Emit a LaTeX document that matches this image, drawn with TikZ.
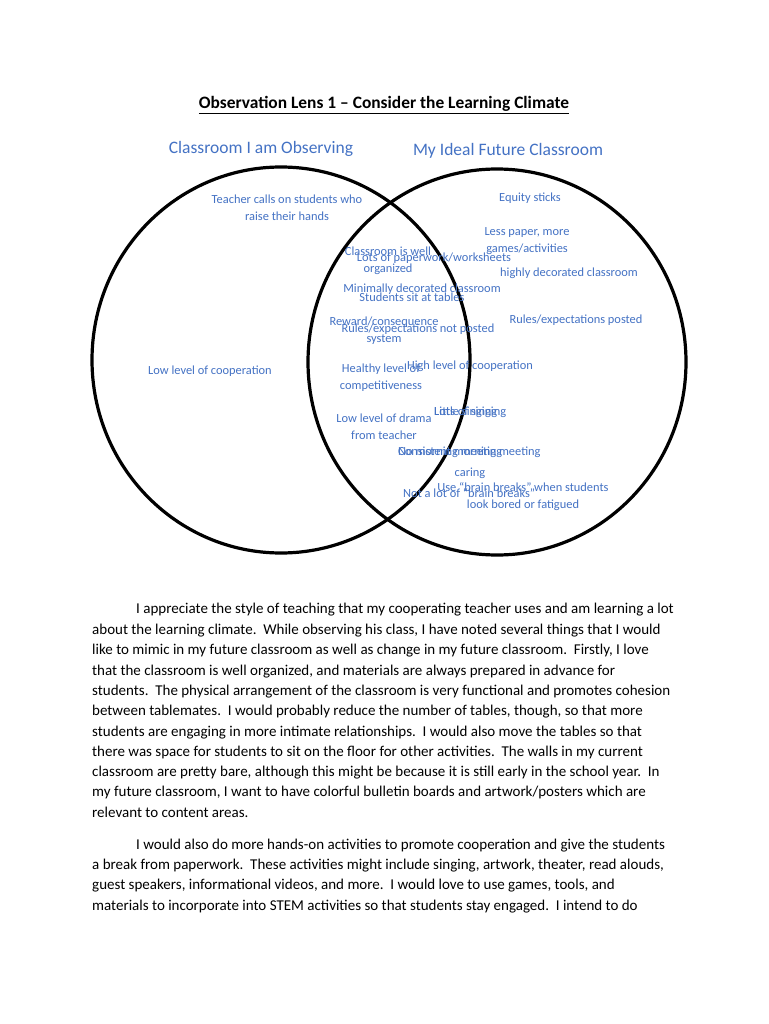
\documentclass[tikz,border=0pt]{standalone}
\usepackage{fontspec}
\setmainfont{Carlito}
\usepackage{xcolor}
\usepackage{tikz}
\usetikzlibrary{positioning}
\definecolor{wordblue}{RGB}{68,114,196}

\begin{document}
\begin{tikzpicture}[x=1pt, y=-1pt,
    lbl/.style={font=\fontsize{12.4}{17}\selectfont, text=wordblue, inner sep=0pt, align=center},
    hdr/.style={font=\fontsize{17.5}{20}\selectfont, text=wordblue, inner sep=0pt},
    body/.style={font=\fontsize{15}{20}\selectfont, anchor=base west, inner sep=0pt}]
  \useasboundingbox[fill=white] (0,0) rectangle (768,1024);
  % title
  \node[font=\fontsize{17.4}{20}\selectfont\bfseries, inner sep=0pt] (title) at (384,105)
    {\underline{Observation Lens 1 – Consider the Learning Climate}};
  % the two sets
  \draw[line width=3.2pt] (281,360) ellipse [x radius=189pt, y radius=193pt];
  \draw[line width=3.2pt] (497,362) ellipse [x radius=189pt, y radius=193pt];
  \node[hdr] (obs) at (261,149) {Classroom I am Observing};
  \node[hdr] (ideal) at (508,151) {My Ideal Future Classroom};
  % left only
  \node[lbl] (calls) at (287,208) {Teacher calls on students who\\raise their hands};
  \node[lbl] (lowcoop) at (210,371) {Low level of cooperation};
  % right only
  \node[lbl] (equity) at (530,198) {Equity sticks};
  \node[lbl] (lesspaper) at (527,241) {Less paper, more\\games/activities};
  \node[lbl] (decor) at (569,273) {highly decorated classroom};
  \node[lbl] (posted) at (576,320) {Rules/expectations posted};
  % middle, written over one another as in the sheet
  \node[lbl] (organized) at (388,261) {Classroom is well\\organized};
  \node[lbl] (paperwork) at (434,258) {Lots of paperwork/worksheets};
  \node[lbl] (minimal) at (422,289) {Minimally decorated classroom};
  \node[lbl] (tables) at (412,297) {Students sit at tables};
  \node[lbl] (reward) at (384,331) {Reward/consequence\\system};
  \node[lbl] (notposted) at (418,329) {Rules/expectations not posted};
  \node[lbl] (healthy) at (381,378) {Healthy level of\\competitiveness};
  \node[lbl] (highcoop) at (470,366) {High level of cooperation};
  \node[lbl] (drama) at (384,427) {Low level of drama\\from teacher};
  \node[lbl, anchor=west] (lots) at (434,412) {Lots of singing};
  \node[lbl, anchor=west] (little) at (434,412) {Little singing};
  \node[lbl, anchor=west] (consistent) at (398,452) {Consistent morning meeting};
  \node[lbl, anchor=west] (nomeeting) at (398,452) {No morning meeting};
  \node[lbl] (caring) at (470,473) {caring};
  \node[lbl, anchor=west] (notalot) at (403,493) {Not a lot of “brain breaks”};
  \node[lbl] (usebreaks) at (523,497) {Use “brain breaks” when students\\look bored or fatigued};
  % reflection text
  \node[body] (p1) at (136,613) {I appreciate the style of teaching that my cooperating teacher uses and am learning a lot};
  \node[body] (p2) at (92,634) {about the learning climate.\ \ While observing his class, I have noted several things that I would};
  \node[body] (p3) at (92,654) {like to mimic in my future classroom as well as change in my future classroom.\ \ Firstly, I love};
  \node[body] (p4) at (92,675) {that the classroom is well organized, and materials are always prepared in advance for};
  \node[body] (p5) at (92,695) {students.\ \ The physical arrangement of the classroom is very functional and promotes cohesion};
  \node[body] (p6) at (92,715) {between tablemates.\ \ I would probably reduce the number of tables, though, so that more};
  \node[body] (p7) at (92,736) {students are engaging in more intimate relationships.\ \ I would also move the tables so that};
  \node[body] (p8) at (92,756) {there was space for students to sit on the floor for other activities.\ \ The walls in my current};
  \node[body] (p9) at (92,776) {classroom are pretty bare, although this might be because it is still early in the school year.\ \ In};
  \node[body] (p10) at (92,796) {my future classroom, I want to have colorful bulletin boards and artwork/posters which are};
  \node[body] (p11) at (92,817) {relevant to content areas.};
  \node[body] (q1) at (136,849) {I would also do more hands-on activities to promote cooperation and give the students};
  \node[body] (q2) at (92,869) {a break from paperwork.\ \ These activities might include singing, artwork, theater, read alouds,};
  \node[body] (q3) at (92,889) {guest speakers, informational videos, and more.\ \ I would love to use games, tools, and};
  \node[body] (q4) at (92,910) {materials to incorporate into STEM activities so that students stay engaged.\ \ I intend to do};
\end{tikzpicture}
\end{document}
